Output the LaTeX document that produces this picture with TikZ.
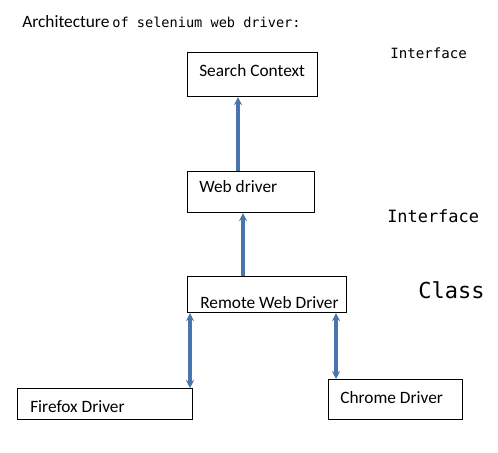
\documentclass[tikz,border=0pt]{standalone}
\usepackage{fontspec}
\setmainfont{Carlito}
\setmonofont{DejaVu Sans Mono}
\usetikzlibrary{arrows.meta}

\definecolor{arrowblue}{HTML}{4775AC}

\begin{document}
\begin{tikzpicture}[x=0.75pt,y=0.75pt,yscale=-1,xscale=1,
  box/.style={draw,line width=0.8pt,anchor=north west,inner sep=0pt},
  lbl/.style={anchor=west,inner sep=0pt,font=\fontsize{13}{15}\selectfont},
  arr/.style={draw=arrowblue,line width=2.6pt,{Stealth[length=6pt,width=6pt]}-{Stealth[length=6pt,width=6pt]}},
  uparr/.style={draw=arrowblue,line width=2.6pt,-{Stealth[length=6pt,width=6pt]}}]

\useasboundingbox (0,0) rectangle (498,452);

% boxes
\node (sc) [box,minimum width=97.5pt,minimum height=33pt] at (187,52) {};

\node (wd) [box,minimum width=95.25pt,minimum height=30.75pt] at (187,171) {};

\node (rwd) [box,minimum width=119.25pt,minimum height=27pt] at (187,276) {};

\node (ff) [box,minimum width=131.25pt,minimum height=23.25pt] at (17,388) {};

\node (cd) [box,minimum width=100.5pt,minimum height=30pt] at (328,379) {};

% labels
\node (sclbl) [lbl] at (199,71) {Search Context};

\node (wdlbl) [lbl] at (199,187) {Web driver};

\node (rwdlbl) [lbl] at (200,303) {Remote Web Driver};

\node (fflbl) [lbl] at (30,407) {Firefox Driver};

\node (cdlbl) [lbl] at (340,398) {Chrome Driver};

\node (title) [lbl] at (22,22) {Architecture\,{\ttfamily\fontsize{10.2}{12}\selectfont of selenium web driver:}};

\node (if1) [anchor=west,inner sep=0pt,font=\ttfamily\fontsize{10.6}{12}\selectfont] at (390,53) {Interface};

\node (if2) [anchor=west,inner sep=0pt,font=\ttfamily\fontsize{12.7}{14}\selectfont] at (387,216) {Interface};

\node (cls) [anchor=west,inner sep=0pt,font=\ttfamily\fontsize{16.5}{18}\selectfont] at (418,290) {Class};

% arrows
\draw [uparr] (wd.north -| 238,0) -- (sc.south -| 238,0);

\draw [uparr] (rwd.north -| 243,0) -- (wd.south -| 243,0);

\draw [arr] (rwd.south -| 190,0) -- (ff.north -| 190,0);

\draw [arr] (rwd.south -| 336,0) -- (cd.north -| 336,0);

\end{tikzpicture}
\end{document}
